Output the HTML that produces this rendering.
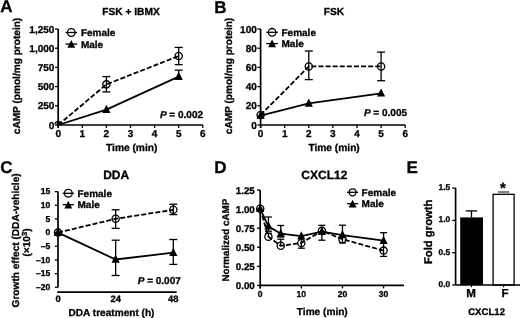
<!DOCTYPE html>
<html><head><meta charset="utf-8"><title>Figure</title>
<style>
html,body{margin:0;padding:0;background:#fff;}
body{width:520px;height:318px;overflow:hidden;}
svg{display:block;filter:blur(0.3px);}
text{font-family:"Liberation Sans",Arial,Helvetica,sans-serif;font-weight:bold;fill:#000;stroke:#000;stroke-width:0.3px;text-rendering:geometricPrecision;}
</style></head>
<body>
<svg width="520" height="318" viewBox="0 0 520 318" stroke="#000" stroke-linecap="butt">
<rect x="0" y="0" width="520" height="318" fill="#fff" stroke="none"/>
<g stroke="#000">
<text x="0.2" y="12.4" font-size="17" text-anchor="start">A</text>
<text x="131" y="15.2" font-size="10.2" text-anchor="middle">FSK + IBMX</text>
<line x1="58.2" y1="29" x2="58.2" y2="128" stroke-width="1.7"/>
<line x1="55" y1="125" x2="58.2" y2="125" stroke-width="1.3"/>
<text x="54.4" y="128.6" font-size="10" text-anchor="end">0</text>
<line x1="55" y1="105.8" x2="58.2" y2="105.8" stroke-width="1.3"/>
<text x="54.4" y="109.4" font-size="10" text-anchor="end">250</text>
<line x1="55" y1="86.6" x2="58.2" y2="86.6" stroke-width="1.3"/>
<text x="54.4" y="90.2" font-size="10" text-anchor="end">500</text>
<line x1="55" y1="67.4" x2="58.2" y2="67.4" stroke-width="1.3"/>
<text x="54.4" y="71" font-size="10" text-anchor="end">750</text>
<line x1="55" y1="48.2" x2="58.2" y2="48.2" stroke-width="1.3"/>
<text x="54.4" y="51.8" font-size="10" text-anchor="end">1,000</text>
<line x1="55" y1="29" x2="58.2" y2="29" stroke-width="1.3"/>
<text x="54.4" y="32.6" font-size="10" text-anchor="end">1,250</text>
<line x1="58.2" y1="125" x2="202.8" y2="125" stroke-width="1.7"/>
<line x1="58.2" y1="125" x2="58.2" y2="128" stroke-width="1.3"/>
<text x="58.2" y="137.2" font-size="10" text-anchor="middle">0</text>
<line x1="82.3" y1="125" x2="82.3" y2="128" stroke-width="1.3"/>
<text x="82.3" y="137.2" font-size="10" text-anchor="middle">1</text>
<line x1="106.4" y1="125" x2="106.4" y2="128" stroke-width="1.3"/>
<text x="106.4" y="137.2" font-size="10" text-anchor="middle">2</text>
<line x1="130.5" y1="125" x2="130.5" y2="128" stroke-width="1.3"/>
<text x="130.5" y="137.2" font-size="10" text-anchor="middle">3</text>
<line x1="154.6" y1="125" x2="154.6" y2="128" stroke-width="1.3"/>
<text x="154.6" y="137.2" font-size="10" text-anchor="middle">4</text>
<line x1="178.7" y1="125" x2="178.7" y2="128" stroke-width="1.3"/>
<text x="178.7" y="137.2" font-size="10" text-anchor="middle">5</text>
<line x1="202.8" y1="125" x2="202.8" y2="128" stroke-width="1.3"/>
<text x="202.8" y="137.2" font-size="10" text-anchor="middle">6</text>
<text x="131.7" y="150.6" font-size="10.2" text-anchor="middle">Time (min)</text>
<text transform="translate(20,76) rotate(-90)" x="0" y="0" font-size="10.1" text-anchor="middle">cAMP (pmol/mg protein)</text>
<polyline points="58.2,125 106.4,84.37 178.7,56.03" fill="none" stroke-width="1.8" stroke-dasharray="5 2.1"/>
<polyline points="58.2,125 106.4,109.64 178.7,76.62" fill="none" stroke-width="1.8"/>
<line x1="106.4" y1="76.6" x2="106.4" y2="91.9" stroke-width="1.3"/>
<line x1="102.4" y1="76.6" x2="110.4" y2="76.6" stroke-width="1.3"/>
<line x1="102.4" y1="91.9" x2="110.4" y2="91.9" stroke-width="1.3"/>
<line x1="178.7" y1="47.4" x2="178.7" y2="64.7" stroke-width="1.3"/>
<line x1="174.7" y1="47.4" x2="182.7" y2="47.4" stroke-width="1.3"/>
<line x1="174.7" y1="64.7" x2="182.7" y2="64.7" stroke-width="1.3"/>
<line x1="178.7" y1="70.2" x2="178.7" y2="76.6" stroke-width="1.3"/>
<line x1="174.7" y1="70.2" x2="182.7" y2="70.2" stroke-width="1.3"/>
<clipPath id="clipA"><rect x="40" y="20" width="180" height="104.3"/></clipPath>
<g clip-path="url(#clipA)">
<polygon points="54.1,128.28 62.3,128.28 58.2,120.08" fill="#000" stroke="none"/>
<polygon points="102.3,112.92 110.5,112.92 106.4,104.72" fill="#000" stroke="none"/>
<polygon points="174.6,79.9 182.8,79.9 178.7,71.7" fill="#000" stroke="none"/>
<circle cx="58.2" cy="125" r="3.6" fill="none" stroke-width="1.3"/>
<circle cx="106.4" cy="84.37" r="3.6" fill="none" stroke-width="1.3"/>
<circle cx="178.7" cy="56.03" r="3.6" fill="none" stroke-width="1.3"/>
</g>
<line x1="65.5" y1="32.5" x2="77.1" y2="32.5" stroke-width="1.3"/>
<circle cx="71.3" cy="32.5" r="3.8" fill="none" stroke-width="1.3"/>
<text x="80.9" y="36.2" font-size="10" text-anchor="start">Female</text>
<line x1="65.5" y1="44.1" x2="77.1" y2="44.1" stroke-width="1.3"/>
<polygon points="67.4,47.84 75.2,47.84 71.3,40.04" fill="#000" stroke="none"/>
<text x="80.9" y="47.8" font-size="10" text-anchor="start">Male</text>
<text x="203" y="118.2" font-size="10" text-anchor="end"><tspan font-style="italic">P</tspan> = 0.002</text>
<text x="214.2" y="12.8" font-size="17" text-anchor="start">B</text>
<text x="333.9" y="15.2" font-size="10.2" text-anchor="middle">FSK</text>
<line x1="260.6" y1="29" x2="260.6" y2="128" stroke-width="1.7"/>
<line x1="257.4" y1="125" x2="260.6" y2="125" stroke-width="1.3"/>
<text x="256.8" y="128.6" font-size="10" text-anchor="end">0</text>
<line x1="257.4" y1="105.8" x2="260.6" y2="105.8" stroke-width="1.3"/>
<text x="256.8" y="109.4" font-size="10" text-anchor="end">20</text>
<line x1="257.4" y1="86.6" x2="260.6" y2="86.6" stroke-width="1.3"/>
<text x="256.8" y="90.2" font-size="10" text-anchor="end">40</text>
<line x1="257.4" y1="67.4" x2="260.6" y2="67.4" stroke-width="1.3"/>
<text x="256.8" y="71" font-size="10" text-anchor="end">60</text>
<line x1="257.4" y1="48.2" x2="260.6" y2="48.2" stroke-width="1.3"/>
<text x="256.8" y="51.8" font-size="10" text-anchor="end">80</text>
<line x1="257.4" y1="29" x2="260.6" y2="29" stroke-width="1.3"/>
<text x="256.8" y="32.6" font-size="10" text-anchor="end">100</text>
<line x1="260.6" y1="125" x2="405.2" y2="125" stroke-width="1.7"/>
<line x1="260.6" y1="125" x2="260.6" y2="128" stroke-width="1.3"/>
<text x="260.6" y="137.2" font-size="10" text-anchor="middle">0</text>
<line x1="284.7" y1="125" x2="284.7" y2="128" stroke-width="1.3"/>
<text x="284.7" y="137.2" font-size="10" text-anchor="middle">1</text>
<line x1="308.8" y1="125" x2="308.8" y2="128" stroke-width="1.3"/>
<text x="308.8" y="137.2" font-size="10" text-anchor="middle">2</text>
<line x1="332.9" y1="125" x2="332.9" y2="128" stroke-width="1.3"/>
<text x="332.9" y="137.2" font-size="10" text-anchor="middle">3</text>
<line x1="357" y1="125" x2="357" y2="128" stroke-width="1.3"/>
<text x="357" y="137.2" font-size="10" text-anchor="middle">4</text>
<line x1="381.1" y1="125" x2="381.1" y2="128" stroke-width="1.3"/>
<text x="381.1" y="137.2" font-size="10" text-anchor="middle">5</text>
<line x1="405.2" y1="125" x2="405.2" y2="128" stroke-width="1.3"/>
<text x="405.2" y="137.2" font-size="10" text-anchor="middle">6</text>
<text x="334.11" y="150.6" font-size="10.2" text-anchor="middle">Time (min)</text>
<text transform="translate(232.2,76) rotate(-90)" x="0" y="0" font-size="10.1" text-anchor="middle">cAMP (pmol/mg protein)</text>
<polyline points="260.6,115.02 308.8,66.44 381.1,66.44" fill="none" stroke-width="1.8" stroke-dasharray="5 2.1"/>
<polyline points="260.6,115.59 308.8,103.4 381.1,93.32" fill="none" stroke-width="1.8"/>
<line x1="308.8" y1="51" x2="308.8" y2="79.6" stroke-width="1.3"/>
<line x1="304.8" y1="51" x2="312.8" y2="51" stroke-width="1.3"/>
<line x1="304.8" y1="79.6" x2="312.8" y2="79.6" stroke-width="1.3"/>
<line x1="381.1" y1="52.1" x2="381.1" y2="80.7" stroke-width="1.3"/>
<line x1="377.1" y1="52.1" x2="385.1" y2="52.1" stroke-width="1.3"/>
<line x1="377.1" y1="80.7" x2="385.1" y2="80.7" stroke-width="1.3"/>
<polygon points="256.5,118.87 264.7,118.87 260.6,110.67" fill="#000" stroke="none"/>
<polygon points="304.7,106.68 312.9,106.68 308.8,98.48" fill="#000" stroke="none"/>
<polygon points="377,96.6 385.2,96.6 381.1,88.4" fill="#000" stroke="none"/>
<circle cx="260.6" cy="115.02" r="3.6" fill="none" stroke-width="1.3"/>
<circle cx="308.8" cy="66.44" r="3.6" fill="none" stroke-width="1.3"/>
<circle cx="381.1" cy="66.44" r="3.6" fill="none" stroke-width="1.3"/>
<line x1="266.3" y1="32.3" x2="277.9" y2="32.3" stroke-width="1.3"/>
<circle cx="272.1" cy="32.3" r="3.8" fill="none" stroke-width="1.3"/>
<text x="281.5" y="36" font-size="10" text-anchor="start">Female</text>
<line x1="266.3" y1="43.6" x2="277.9" y2="43.6" stroke-width="1.3"/>
<polygon points="268.2,47.34 276,47.34 272.1,39.54" fill="#000" stroke="none"/>
<text x="281.5" y="47.3" font-size="10" text-anchor="start">Male</text>
<text x="407" y="116.4" font-size="10" text-anchor="end"><tspan font-style="italic">P</tspan> = 0.005</text>
<text x="0.2" y="172.6" font-size="17" text-anchor="start">C</text>
<text x="116.2" y="179.2" font-size="12" text-anchor="middle">DDA</text>
<line x1="58" y1="191.6" x2="58" y2="287.29" stroke-width="1.7"/>
<line x1="54.8" y1="191.6" x2="58" y2="191.6" stroke-width="1.3"/>
<text x="50.4" y="194.4" font-size="8.6" text-anchor="end">15</text>
<line x1="54.8" y1="205.27" x2="58" y2="205.27" stroke-width="1.3"/>
<text x="50.4" y="208.07" font-size="8.6" text-anchor="end">10</text>
<line x1="54.8" y1="218.94" x2="58" y2="218.94" stroke-width="1.3"/>
<text x="50.4" y="221.74" font-size="8.6" text-anchor="end">5</text>
<line x1="54.8" y1="232.61" x2="58" y2="232.61" stroke-width="1.3"/>
<text x="50.4" y="235.41" font-size="8.6" text-anchor="end">0</text>
<line x1="54.8" y1="246.28" x2="58" y2="246.28" stroke-width="1.3"/>
<text x="50.4" y="249.08" font-size="8.6" text-anchor="end">&#8211;5</text>
<line x1="54.8" y1="259.95" x2="58" y2="259.95" stroke-width="1.3"/>
<text x="50.4" y="262.75" font-size="8.6" text-anchor="end">&#8211;10</text>
<line x1="54.8" y1="273.62" x2="58" y2="273.62" stroke-width="1.3"/>
<text x="50.4" y="276.42" font-size="8.6" text-anchor="end">&#8211;15</text>
<line x1="54.8" y1="287.29" x2="58" y2="287.29" stroke-width="1.3"/>
<text x="50.4" y="290.09" font-size="8.6" text-anchor="end">&#8211;20</text>
<line x1="57.2" y1="292.2" x2="176.7" y2="292.2" stroke-width="1.7"/>
<text x="58" y="301.6" font-size="9.4" text-anchor="middle">0</text>
<text x="115.65" y="301.6" font-size="9.4" text-anchor="middle">24</text>
<text x="173.3" y="301.6" font-size="9.4" text-anchor="middle">48</text>
<text x="111.5" y="315.5" font-size="10.1" text-anchor="middle">DDA treatment (h)</text>
<text transform="translate(19.2,240.4) rotate(-90)" x="0" y="0" font-size="10.1" text-anchor="middle">Growth effect (DDA-vehicle)</text>
<text transform="translate(29.6,242.5) rotate(-90)" x="0" y="0" font-size="10.1" text-anchor="middle">(&#215;10<tspan font-size="7.5" dy="-3.0">3</tspan><tspan dy="3.0">)</tspan></text>
<polyline points="58,232.61 115.65,218.8 173.3,209.8" fill="none" stroke-width="1.8" stroke-dasharray="5 2.1"/>
<polyline points="58,232.61 115.65,259.5 173.3,252.7" fill="none" stroke-width="1.8"/>
<line x1="115.65" y1="209.8" x2="115.65" y2="228.4" stroke-width="1.3"/>
<line x1="111.65" y1="209.8" x2="119.65" y2="209.8" stroke-width="1.3"/>
<line x1="111.65" y1="228.4" x2="119.65" y2="228.4" stroke-width="1.3"/>
<line x1="173.3" y1="204.2" x2="173.3" y2="214.6" stroke-width="1.3"/>
<line x1="169.3" y1="204.2" x2="177.3" y2="204.2" stroke-width="1.3"/>
<line x1="169.3" y1="214.6" x2="177.3" y2="214.6" stroke-width="1.3"/>
<line x1="115.65" y1="240.2" x2="115.65" y2="275.5" stroke-width="1.3"/>
<line x1="111.65" y1="240.2" x2="119.65" y2="240.2" stroke-width="1.3"/>
<line x1="111.65" y1="275.5" x2="119.65" y2="275.5" stroke-width="1.3"/>
<line x1="173.3" y1="239.5" x2="173.3" y2="264.4" stroke-width="1.3"/>
<line x1="169.3" y1="239.5" x2="177.3" y2="239.5" stroke-width="1.3"/>
<line x1="169.3" y1="264.4" x2="177.3" y2="264.4" stroke-width="1.3"/>
<polygon points="53.9,235.89 62.1,235.89 58,227.69" fill="#000" stroke="none"/>
<polygon points="111.55,262.78 119.75,262.78 115.65,254.58" fill="#000" stroke="none"/>
<polygon points="169.2,255.98 177.4,255.98 173.3,247.78" fill="#000" stroke="none"/>
<circle cx="58" cy="232.61" r="3.6" fill="none" stroke-width="1.3"/>
<circle cx="115.65" cy="218.8" r="3.6" fill="none" stroke-width="1.3"/>
<circle cx="173.3" cy="209.8" r="3.6" fill="none" stroke-width="1.3"/>
<line x1="62.7" y1="193.3" x2="73.9" y2="193.3" stroke-width="1.3"/>
<circle cx="68.3" cy="193.3" r="3.9" fill="none" stroke-width="1.3"/>
<text x="77.5" y="197" font-size="10" text-anchor="start">Female</text>
<line x1="62.7" y1="204.7" x2="73.9" y2="204.7" stroke-width="1.3"/>
<polygon points="64.4,208.44 72.2,208.44 68.3,200.64" fill="#000" stroke="none"/>
<text x="77.5" y="208.4" font-size="10" text-anchor="start">Male</text>
<text x="180.8" y="283.8" font-size="10" text-anchor="end"><tspan font-style="italic">P</tspan> = 0.007</text>
<text x="214.2" y="172.8" font-size="17" text-anchor="start">D</text>
<text x="301.3" y="179.3" font-size="12" text-anchor="start">CXCL12</text>
<line x1="260.2" y1="190.02" x2="260.2" y2="288.4" stroke-width="1.7"/>
<line x1="257" y1="285.4" x2="260.2" y2="285.4" stroke-width="1.3"/>
<text x="254.8" y="289.3" font-size="9.8" text-anchor="end">0.00</text>
<line x1="257" y1="266.32" x2="260.2" y2="266.32" stroke-width="1.3"/>
<text x="254.8" y="270.22" font-size="9.8" text-anchor="end">0.25</text>
<line x1="257" y1="247.25" x2="260.2" y2="247.25" stroke-width="1.3"/>
<text x="254.8" y="251.15" font-size="9.8" text-anchor="end">0.50</text>
<line x1="257" y1="228.17" x2="260.2" y2="228.17" stroke-width="1.3"/>
<text x="254.8" y="232.07" font-size="9.8" text-anchor="end">0.75</text>
<line x1="257" y1="209.1" x2="260.2" y2="209.1" stroke-width="1.3"/>
<text x="254.8" y="213" font-size="9.8" text-anchor="end">1.00</text>
<line x1="257" y1="190.02" x2="260.2" y2="190.02" stroke-width="1.3"/>
<text x="254.8" y="193.92" font-size="9.8" text-anchor="end">1.25</text>
<line x1="260.2" y1="285.4" x2="404" y2="285.4" stroke-width="1.7"/>
<line x1="260.2" y1="285.4" x2="260.2" y2="288.4" stroke-width="1.3"/>
<text x="260.2" y="297.4" font-size="8.6" text-anchor="middle">0</text>
<line x1="301.33" y1="285.4" x2="301.33" y2="288.4" stroke-width="1.3"/>
<text x="301.33" y="297.4" font-size="8.6" text-anchor="middle">10</text>
<line x1="342.46" y1="285.4" x2="342.46" y2="288.4" stroke-width="1.3"/>
<text x="342.46" y="297.4" font-size="8.6" text-anchor="middle">20</text>
<line x1="383.59" y1="285.4" x2="383.59" y2="288.4" stroke-width="1.3"/>
<text x="383.59" y="297.4" font-size="8.6" text-anchor="middle">30</text>
<text x="322.3" y="315" font-size="10.1" text-anchor="middle">Time (min)</text>
<text transform="translate(229.4,240.2) rotate(-90)" x="0" y="0" font-size="9.8" text-anchor="middle">Normalized cAMP</text>
<polyline points="260.2,208.8 268.43,236.69 280.76,245.81 301.33,243 321.89,230.84 342.46,239.2 383.59,250.6" fill="none" stroke-width="1.8" stroke-dasharray="5 2.1"/>
<polyline points="260.2,208.8 268.43,226.28 280.76,233.73 301.33,236.16 321.89,231.6 342.46,235.02 383.59,240.72" fill="none" stroke-width="1.8"/>
<line x1="268.43" y1="217" x2="268.43" y2="231.2" stroke-width="1.3"/>
<line x1="264.93" y1="217" x2="271.93" y2="217" stroke-width="1.3"/>
<line x1="264.93" y1="231.2" x2="271.93" y2="231.2" stroke-width="1.3"/>
<line x1="268.43" y1="233.3" x2="268.43" y2="237" stroke-width="1.3"/>
<line x1="264.93" y1="233.3" x2="271.93" y2="233.3" stroke-width="1.3"/>
<line x1="280.76" y1="225.5" x2="280.76" y2="237" stroke-width="1.3"/>
<line x1="277.26" y1="225.5" x2="284.26" y2="225.5" stroke-width="1.3"/>
<line x1="277.26" y1="237" x2="284.26" y2="237" stroke-width="1.3"/>
<line x1="280.76" y1="239.2" x2="280.76" y2="245" stroke-width="1.3"/>
<line x1="277.26" y1="239.2" x2="284.26" y2="239.2" stroke-width="1.3"/>
<line x1="301.33" y1="236" x2="301.33" y2="248.2" stroke-width="1.3"/>
<line x1="297.83" y1="248.2" x2="304.83" y2="248.2" stroke-width="1.3"/>
<line x1="321.89" y1="225.3" x2="321.89" y2="240.2" stroke-width="1.3"/>
<line x1="318.39" y1="225.3" x2="325.39" y2="225.3" stroke-width="1.3"/>
<line x1="318.39" y1="240.2" x2="325.39" y2="240.2" stroke-width="1.3"/>
<line x1="342.46" y1="225.2" x2="342.46" y2="243" stroke-width="1.3"/>
<line x1="338.96" y1="225.2" x2="345.96" y2="225.2" stroke-width="1.3"/>
<line x1="338.96" y1="243" x2="345.96" y2="243" stroke-width="1.3"/>
<line x1="383.59" y1="232.7" x2="383.59" y2="256.4" stroke-width="1.3"/>
<line x1="380.09" y1="232.7" x2="387.09" y2="232.7" stroke-width="1.3"/>
<line x1="380.09" y1="256.4" x2="387.09" y2="256.4" stroke-width="1.3"/>
<polygon points="256.1,212.08 264.3,212.08 260.2,203.88" fill="#000" stroke="none"/>
<polygon points="264.33,229.56 272.53,229.56 268.43,221.36" fill="#000" stroke="none"/>
<polygon points="276.66,237.01 284.87,237.01 280.76,228.81" fill="#000" stroke="none"/>
<polygon points="297.23,239.44 305.43,239.44 301.33,231.24" fill="#000" stroke="none"/>
<polygon points="317.79,234.88 326,234.88 321.89,226.68" fill="#000" stroke="none"/>
<polygon points="338.36,238.3 346.56,238.3 342.46,230.1" fill="#000" stroke="none"/>
<polygon points="379.49,244 387.69,244 383.59,235.8" fill="#000" stroke="none"/>
<circle cx="260.2" cy="208.8" r="3.6" fill="none" stroke-width="1.3"/>
<circle cx="268.43" cy="236.69" r="3.6" fill="none" stroke-width="1.3"/>
<circle cx="280.76" cy="245.81" r="3.6" fill="none" stroke-width="1.3"/>
<circle cx="301.33" cy="243" r="3.6" fill="none" stroke-width="1.3"/>
<circle cx="321.89" cy="230.84" r="3.6" fill="none" stroke-width="1.3"/>
<circle cx="342.46" cy="239.2" r="3.6" fill="none" stroke-width="1.3"/>
<circle cx="383.59" cy="250.6" r="3.6" fill="none" stroke-width="1.3"/>
<line x1="347.1" y1="192.3" x2="358.1" y2="192.3" stroke-width="1.3"/>
<circle cx="352.6" cy="192.3" r="3.5" fill="none" stroke-width="1.3"/>
<text x="361.6" y="196" font-size="10" text-anchor="start">Female</text>
<line x1="347.1" y1="203.7" x2="358.1" y2="203.7" stroke-width="1.3"/>
<polygon points="348.7,207.44 356.5,207.44 352.6,199.64" fill="#000" stroke="none"/>
<text x="361.6" y="207.4" font-size="10" text-anchor="start">Male</text>
<text x="406.4" y="173" font-size="17" text-anchor="start">E</text>
<line x1="455.6" y1="188.1" x2="455.6" y2="285" stroke-width="1.7"/>
<line x1="452.2" y1="285" x2="455.6" y2="285" stroke-width="1.3"/>
<text x="450.2" y="286.9" font-size="8.4" text-anchor="end">0.0</text>
<line x1="452.2" y1="252.7" x2="455.6" y2="252.7" stroke-width="1.3"/>
<text x="450.2" y="254.6" font-size="8.4" text-anchor="end">0.5</text>
<line x1="452.2" y1="220.4" x2="455.6" y2="220.4" stroke-width="1.3"/>
<text x="450.2" y="222.3" font-size="8.4" text-anchor="end">1.0</text>
<line x1="452.2" y1="188.1" x2="455.6" y2="188.1" stroke-width="1.3"/>
<text x="450.2" y="190" font-size="8.4" text-anchor="end">1.5</text>
<rect x="460.2" y="217.4" width="22.8" height="67.6" fill="#000" stroke="none"/>
<line x1="471.5" y1="217.4" x2="471.5" y2="210.9" stroke-width="1.3"/>
<line x1="465.8" y1="210.9" x2="477.1" y2="210.9" stroke-width="1.3"/>
<rect x="493.1" y="194.3" width="21" height="90.7" fill="#fff" stroke-width="1.3"/>
<line x1="498.1" y1="192" x2="509.1" y2="192" stroke-width="1.0"/>
<text x="503" y="193" font-size="15" text-anchor="middle">*</text>
<line x1="455.6" y1="285" x2="520" y2="285" stroke-width="1.7"/>
<line x1="471.5" y1="285" x2="471.5" y2="287.2" stroke-width="1.2"/>
<line x1="503.6" y1="285" x2="503.6" y2="287.2" stroke-width="1.2"/>
<text x="471.2" y="297.1" font-size="11.6" text-anchor="middle">M</text>
<text x="505" y="297.1" font-size="11.6" text-anchor="middle">F</text>
<text x="486.6" y="315.2" font-size="9.6" text-anchor="middle">CXCL12</text>
<text transform="translate(432.2,231.8) rotate(-90)" x="0" y="0" font-size="11.3" text-anchor="middle">Fold growth</text>
</g>
</svg>
</body></html>
